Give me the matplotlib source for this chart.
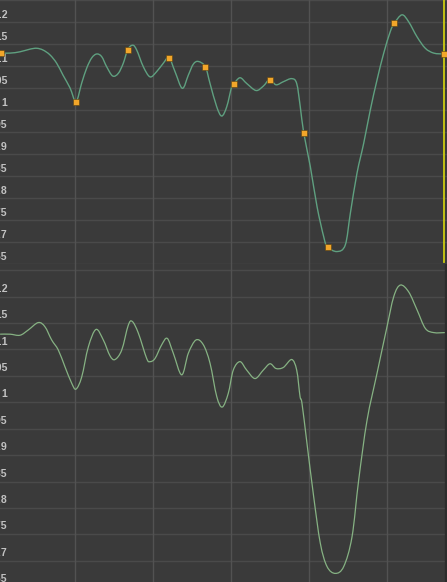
import matplotlib
matplotlib.use("Agg")
import matplotlib.pyplot as plt
import matplotlib.transforms as mtransforms
from matplotlib.patches import Rectangle, PathPatch
from matplotlib.path import Path

# top panel curve (frame, value)
top_frames = [0.4, 1.67, 2.95, 4.23, 5.09, 5.9, 6.79, 7.65, 8.46, 9.36, 10.13,
              10.86, 11.5, 12.14, 12.78, 13.42, 14.06, 14.83, 15.55, 16.19, 16.76,
              17.4, 17.91, 18.76, 19.62, 20.47, 21.32, 22.05, 22.82, 23.76, 24.53,
              25.17, 25.81, 26.71, 27.31, 28.17, 28.81, 29.45, 30.09, 30.35, 31.15,
              32.01, 33.21, 34.14, 34.96, 35.77, 36.71, 37.78, 38.42, 38.88, 39.32,
              40.17, 41.03, 41.88, 42.35, 43.59, 44.65, 45.3, 46.15, 47.01, 47.86,
              48.72, 49.58, 50.42, 50.94, 51.92, 52.78, 53.85, 54.91, 55.99, 57.27]
top_values = [1.130, 1.130, 1.133, 1.139, 1.141, 1.137, 1.126, 1.107, 1.080, 1.051, 1.020,
              1.062, 1.096, 1.119, 1.128, 1.122, 1.099, 1.078, 1.084, 1.107, 1.138,
              1.148, 1.137, 1.099, 1.076, 1.088, 1.107, 1.120, 1.088, 1.050, 1.080,
              1.105, 1.111, 1.099, 1.061, 1.008, 0.987, 1.008, 1.054, 1.060, 1.074,
              1.061, 1.045, 1.055, 1.070, 1.058, 1.065, 1.072, 1.061, 1.008, 0.949,
              0.872, 0.781, 0.713, 0.690, 0.679, 0.694, 0.766, 0.857, 0.925, 1.001,
              1.069, 1.130, 1.179, 1.198, 1.217, 1.201, 1.167, 1.141, 1.130, 1.128]

# keyframes on the top curve
key_frames = [0.5, 10.1, 16.8, 22.1, 26.7, 30.4, 35.0, 39.3, 42.4, 50.9, 57.3]
key_values = [1.130, 1.020, 1.138, 1.120, 1.099, 1.060, 1.070, 0.949, 0.690, 1.198, 1.128]

current_frame = 57.25

# bottom panel curve (frame, value)
bot_frames = [0.4, 1.67, 2.95, 4.01, 5.29, 6.15, 7.01, 7.86, 8.72, 9.58, 10.13,
              10.86, 11.71, 12.69, 13.63, 14.49, 15.13, 15.99, 16.83, 17.35, 18.12,
              19.19, 19.62, 20.26, 21.12, 21.83, 22.6, 23.68, 24.53, 25.51, 26.45,
              27.31, 28.17, 28.88, 29.65, 30.29, 31.15, 32.01, 33.08, 34.14, 35.0,
              35.77, 36.71, 37.78, 38.42, 38.85, 39.1, 39.74, 40.6, 41.45, 42.31,
              43.37, 44.45, 45.51, 46.37, 47.44, 48.72, 49.91, 50.86, 51.71, 52.78,
              53.85, 54.91, 55.99, 57.44, 57.7]
bot_values = [1.129, 1.129, 1.127, 1.137, 1.151, 1.143, 1.118, 1.099, 1.067, 1.036, 1.025,
              1.048, 1.105, 1.138, 1.118, 1.088, 1.081, 1.099, 1.146, 1.153, 1.131,
              1.083, 1.077, 1.083, 1.109, 1.121, 1.093, 1.052, 1.093, 1.118, 1.109,
              1.074, 1.011, 0.991, 1.017, 1.061, 1.077, 1.061, 1.045, 1.061, 1.073,
              1.064, 1.066, 1.081, 1.061, 1.011, 0.998, 0.922, 0.821, 0.733, 0.689,
              0.676, 0.689, 0.745, 0.853, 0.966, 1.055, 1.137, 1.200, 1.222, 1.209,
              1.175, 1.140, 1.132, 1.132, 1.132]

grid_values = [1.25, 1.2, 1.15, 1.1, 1.05, 1.0, 0.95, 0.9, 0.85, 0.8, 0.75, 0.7, 0.65]
tick_labels = ["1.2", "1.15", "1.1", "1.05", "1", "0.95", "0.9", "0.85",
               "0.8", "0.75", "0.7", "0.65"]
tick_values = [1.2, 1.15, 1.1, 1.05, 1.0, 0.95, 0.9, 0.85, 0.8, 0.75, 0.7, 0.65]
frame_grid = [10, 20, 30, 40, 50]

BG = "#3a3a3a"
HGRID = "#4a4a4a"
VGRID = "#525252"
TEXT = "#c2c2c2"

W, H = 447, 582
split = 264  # px from top where bottom panel begins


def smooth_path(xs, ys):
    # cubic pieces through every read point (catmull-rom handles)
    pts = list(zip(xs, ys))
    verts = [pts[0]]
    codes = [Path.MOVETO]
    for i in range(len(pts) - 1):
        p0 = pts[i - 1] if i > 0 else pts[i]
        p1 = pts[i]
        p2 = pts[i + 1]
        p3 = pts[i + 2] if i + 2 < len(pts) else pts[i + 1]
        c1 = (p1[0] + (p2[0] - p0[0]) / 6, p1[1] + (p2[1] - p0[1]) / 6)
        c2 = (p2[0] - (p3[0] - p1[0]) / 6, p2[1] - (p3[1] - p1[1]) / 6)
        verts += [c1, c2, p2]
        codes += [Path.CURVE4] * 3
    return Path(verts, codes)


fig = plt.figure(figsize=(W / 100, H / 100), dpi=100)
fig.patch.set_facecolor(BG)

ax_top = fig.add_axes([0, (H - split) / H, 1, split / H])
ax_bot = fig.add_axes([0, 0, 1, (H - split) / H])

for ax in (ax_top, ax_bot):
    ax.set_facecolor(BG)
    ax.set_xlim(0.385, 57.69)
    for s in ax.spines.values():
        s.set_visible(False)
    ax.set_xticks([])
    ax.set_yticks([])
    for v in grid_values:
        ax.axhline(v, color=HGRID, lw=1.0, zorder=0)
    for f in frame_grid:
        ax.axvline(f, color=VGRID, lw=1.0, zorder=0)

ax_top.set_ylim(0.6507, 1.2507)
ax_bot.set_ylim(0.6597, 1.2619)

# value labels, partly cut off by the left edge
for ax, off in ((ax_top, 0.0172), (ax_bot, 0.0150)):
    trans = mtransforms.blended_transform_factory(ax.transAxes, ax.transData)
    for lab, v in zip(tick_labels, tick_values):
        ax.text(7.5 / W, v + off, lab, transform=trans, ha="right", va="center",
                fontsize=7.6, family="Liberation Sans", color=TEXT,
                fontweight="bold", clip_on=False)

ax_top.add_patch(PathPatch(smooth_path(top_frames, top_values), facecolor="none",
                           edgecolor="#5fa080", lw=1.0, zorder=2))
ax_top.axvline(current_frame, ymin=0.008, ymax=1, color="#cccc10", lw=1.3, zorder=3)
ax_top.plot(key_frames, key_values, ls="none", marker="s", markersize=3.8,
            markerfacecolor="#f2a62a", markeredgecolor="#5a4010", markeredgewidth=0.4,
            zorder=4)

ax_bot.add_patch(PathPatch(smooth_path(bot_frames, bot_values), facecolor="none",
                           edgecolor="#86b283", lw=0.9, zorder=2))
ax_bot.add_patch(Rectangle((445 / W, 0), 2 / W, 1, transform=ax_bot.transAxes,
                           color="#2c2c2c", zorder=5))

fig.savefig("out.png", dpi=100, facecolor=BG)
